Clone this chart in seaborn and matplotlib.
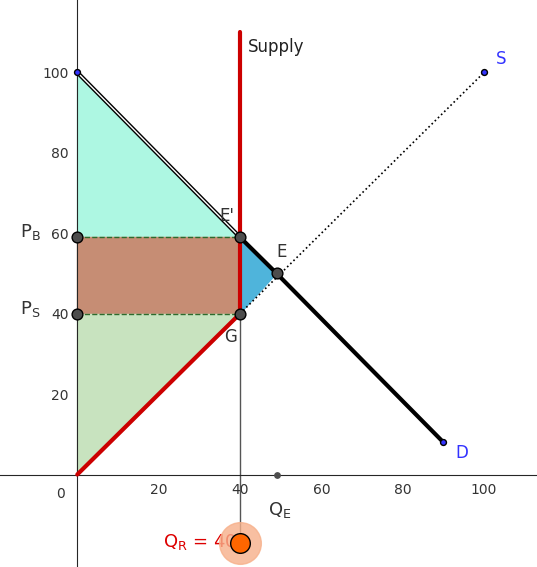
import matplotlib
matplotlib.use("Agg")
import matplotlib.pyplot as plt
import seaborn as sns

sns.set_style("white")
plt.rcParams['font.family'] = ['DejaVu Sans']

# data
demand_q = [0, 40, 49, 90]
demand_p = [100, 59, 50, 8]
supply_q = [40, 100]
supply_p = [40, 100]
pb, ps, qr, qe = 59, 40, 40, 49
vert_top = 110
qr_y = -17

fig, ax = plt.subplots(figsize=(5.37, 5.67), dpi=100)
fig.subplots_adjust(left=0, right=1, bottom=0, top=1)
ax.set_xlim(-19, 113)
ax.set_ylim(-23, 118)

# shaded regions
ax.fill([0, 0, demand_q[1]], [demand_p[0], pb, pb], color="#adf7e2", zorder=1)
ax.fill([0, qr, qr, 0], [ps, ps, pb, pb], color="#c68d74", zorder=1)
ax.fill([qr, demand_q[2], qr], [pb, demand_p[2], ps], color="#4fb4db", zorder=1)
ax.fill([0, 0, qr], [0, ps, ps], color="#c8e3bf", zorder=1)
ax.plot([0, qr], [pb, pb], ls="--", color="#2d6b2d", lw=1, zorder=2)
ax.plot([0, qr], [ps, ps], ls="--", color="#2d6b2d", lw=1, zorder=2)

# lines
ax.plot(supply_q, supply_p, ls=":", color="black", lw=1.2, zorder=2)
sns.lineplot(x=demand_q[:2], y=demand_p[:2], color="black", lw=3, ax=ax, zorder=3)
ax.plot(demand_q[:2], demand_p[:2], color="white", lw=1, zorder=3)
sns.lineplot(x=demand_q[1:], y=demand_p[1:], color="black", lw=3, ax=ax, zorder=3)
ax.plot([0, qr], [0, ps], color="#cc0000", lw=3, zorder=3)
ax.plot([qr, qr], [ps, vert_top], color="#cc0000", lw=3, zorder=3)
ax.plot([qr, qr], [qr_y, ps], color="#555555", lw=1, zorder=2)

# points
grey = dict(s=60, color="#4d4d4d", edgecolor="black", zorder=5)
ax.scatter([0, 0, qr, demand_q[2], qr], [pb, ps, pb, demand_p[2], ps], **grey)
ax.scatter([qe], [0], s=15, color="#4d4d4d", zorder=5)
ax.scatter([0, supply_q[1], demand_q[3]], [demand_p[0], supply_p[1], demand_p[3]],
           s=18, color="#3333ff", edgecolor="black", zorder=5)
ax.scatter([qr], [qr_y], s=900, color="#f7b08a", alpha=0.8, zorder=4)
ax.scatter([qr], [qr_y], s=200, color="#ff6600", edgecolor="black", zorder=5)

# labels
ax.text(42, 105, "Supply", fontsize=12, color="#222222")
ax.text(103, 102, "S", fontsize=12, color="#3333ff")
ax.text(93, 4, "D", fontsize=12, color="#3333ff")
ax.text(35, 63, "E'", fontsize=12, color="#333333")
ax.text(49, 54, "E", fontsize=12, color="#333333")
ax.text(36, 33, "G", fontsize=12, color="#333333")
ax.text(-14, 59, "P$_\\mathregular{B}$", fontsize=13, color="#333333")
ax.text(-14, 40, "P$_\\mathregular{S}$", fontsize=13, color="#333333")
ax.text(47, -10, "Q$_\\mathregular{E}$", fontsize=13, color="#333333")
ax.text(21, -18, "Q$_\\mathregular{R}$ = 40", fontsize=13, color="#dd0000")

# axes through origin
for s in ["top", "right"]:
    ax.spines[s].set_visible(False)
ax.spines["left"].set_position(("data", 0))
ax.spines["bottom"].set_position(("data", 0))
ax.set_xticks([20, 40, 60, 80, 100])
ax.set_yticks([20, 40, 60, 80, 100])
ax.set_xticks(range(10, 111, 10), minor=True)
ax.set_yticks(range(10, 111, 10), minor=True)
ax.tick_params(which="both", direction="inout", length=5, labelsize=10, colors="#333333")
ax.text(-3, -3, "0", fontsize=10, ha="right", va="top", color="#333333")

fig.savefig("out.png", dpi=100)
